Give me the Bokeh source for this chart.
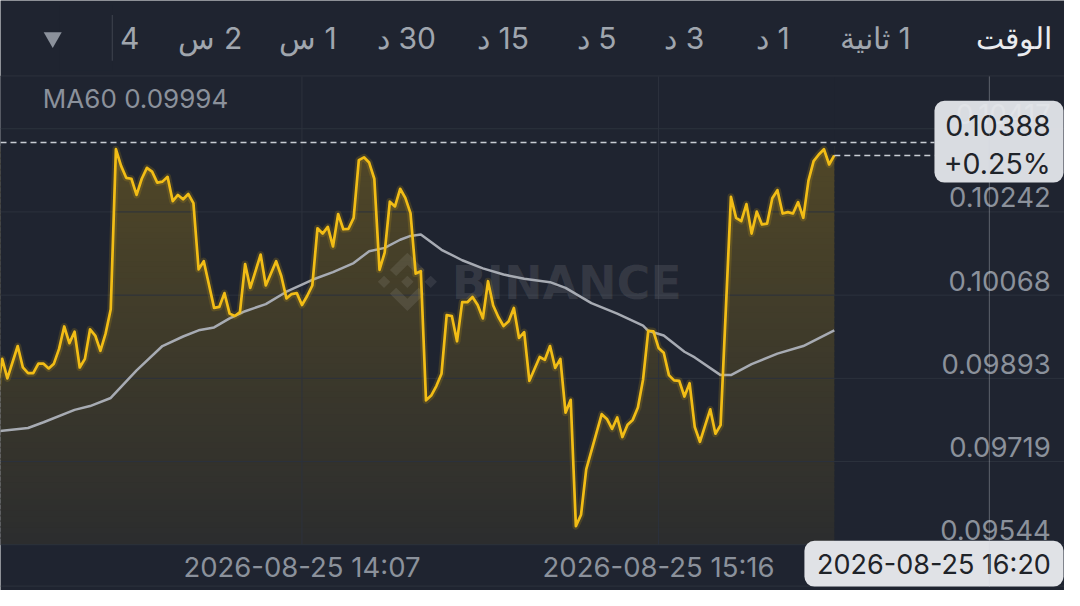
import numpy as np
from bokeh.plotting import figure
from bokeh.models import Range1d
from bokeh.core.properties import value
from bokeh.embed import file_html
from bokeh.resources import INLINE

# ---------------- data ----------------
# minutes after 13:00 on 2026-08-25 (1-minute closes, turning points)
price_t = [8, 9, 10, 12, 13, 14, 15, 16, 17, 18,
           19, 20, 21, 22, 23, 24, 25, 26, 27, 28,
           29, 30, 31, 32, 33, 34, 35, 36, 37, 38,
           39, 40, 41, 42, 43, 44, 45, 46, 47, 48,
           50, 51, 52, 53, 54, 55, 56, 57, 59, 60,
           62, 63, 64, 65, 66, 67, 68, 69, 70, 71,
           72, 73, 74, 75, 76, 77, 78, 79, 80, 81,
           82, 83, 84, 85, 86, 87, 88, 89, 90, 91,
           92, 93, 94, 95, 96, 97, 98, 99, 100, 101,
           102, 103, 104, 105, 106, 107, 108, 109, 110, 111,
           113, 114, 115, 116, 117, 118, 119, 120, 121, 122,
           125, 126, 127, 128, 129, 130, 131, 132, 133, 134,
           135, 136, 137, 138, 139, 140, 141, 142, 143, 144,
           146, 147, 148, 150, 151, 152, 153, 154, 155, 156,
           157, 158, 159, 160, 161, 162, 163, 164, 165, 166,
           167, 168, 169, 170]
price_v = [0.09869, 0.09934, 0.09893, 0.09961, 0.09916, 0.09904, 0.09904, 0.09924, 0.09924, 0.09914,
           0.09924, 0.09955, 0.10002, 0.09967, 0.09991, 0.09916, 0.09934, 0.09996, 0.09983, 0.09951,
           0.09987, 0.10038, 0.10374, 0.10339, 0.10314, 0.10312, 0.10278, 0.10312, 0.10335, 0.10327,
           0.10304, 0.10306, 0.10316, 0.10265, 0.10278, 0.10269, 0.10280, 0.10261, 0.10122, 0.10139,
           0.10041, 0.10043, 0.10072, 0.10029, 0.10024, 0.10032, 0.10133, 0.10083, 0.10153, 0.10088,
           0.10139, 0.10108, 0.10061, 0.10070, 0.10072, 0.10047, 0.10066, 0.10088, 0.10208, 0.10197,
           0.10211, 0.10170, 0.10238, 0.10206, 0.10207, 0.10230, 0.10351, 0.10357, 0.10346, 0.10312,
           0.10121, 0.10157, 0.10264, 0.10254, 0.10291, 0.10272, 0.10240, 0.10113, 0.10118, 0.09847,
           0.09857, 0.09877, 0.09903, 0.10026, 0.10024, 0.09971, 0.10053, 0.10053, 0.10064, 0.10047,
           0.10019, 0.10097, 0.10046, 0.10022, 0.10003, 0.10013, 0.10041, 0.09978, 0.09990, 0.09888,
           0.09938, 0.09932, 0.09961, 0.09915, 0.09934, 0.09821, 0.09848, 0.09583, 0.09607, 0.09702,
           0.09818, 0.09808, 0.09787, 0.09811, 0.09770, 0.09796, 0.09806, 0.09832, 0.09891, 0.09993,
           0.09992, 0.09957, 0.09947, 0.09900, 0.09889, 0.09888, 0.09855, 0.09883, 0.09791, 0.09760,
           0.09828, 0.09777, 0.09795, 0.10274, 0.10230, 0.10223, 0.10259, 0.10197, 0.10243, 0.10216,
           0.10218, 0.10271, 0.10288, 0.10239, 0.10242, 0.10239, 0.10263, 0.10230, 0.10308, 0.10349,
           0.10363, 0.10374, 0.10342, 0.10361]

ma_t = [8, 14, 17, 23, 26, 30, 35, 40, 44, 47,
        50, 53, 56, 60, 64, 67, 69, 73, 77, 80,
        83, 86, 88, 90, 94, 98, 102, 106, 110, 115,
        118, 123, 128, 133, 134, 137, 141, 143, 148, 150,
        154, 159, 164, 170]
ma_v = [0.09782, 0.09789, 0.09801, 0.09827, 0.09835, 0.09852, 0.09910, 0.09961, 0.09981, 0.09994,
        0.10000, 0.10019, 0.10034, 0.10049, 0.10075, 0.10090, 0.10100, 0.10116, 0.10135, 0.10160,
        0.10167, 0.10184, 0.10192, 0.10195, 0.10163, 0.10141, 0.10124, 0.10111, 0.10102, 0.10095,
        0.10083, 0.10051, 0.10029, 0.10004, 0.09993, 0.09983, 0.09949, 0.09937, 0.09900, 0.09900,
        0.09923, 0.09945, 0.09961, 0.09994]

y_ticks = [0.09544, 0.097186, 0.098932, 0.100678, 0.102424, 0.104170]
y_tick_labels = ["0.09544", "0.09719", "0.09893", "0.10068", "0.10242", "0.10417"]
x_ticks = [67, 136]                      # 14:07, 15:16
x_tick_labels = ["2026-08-25 14:07", "2026-08-25 15:16"]
tab_labels = ["الوقت", "1 ثانية", "1 د", "3 د", "5 د", "15 د", "30 د", "1 س", "2 س", "4 س"]
ma_label = "MA60 0.09994"
high_price = 0.10388
high_labels = ["0.10388", "+0.25%"]
cursor_t = 200                           # 16:20
cursor_label = "2026-08-25 16:20"

# ---------------- layout helpers ----------------
W, H = 1064, 590
RW, RH = 1080, 606
PX_MIN = 5.246
X0 = 67 - 306 / PX_MIN
X1 = X0 + RW / PX_MIN
PXU = 48946.0
Y_TOP = 0.09544 + 559 / PXU
Y_BOT = 0.09544 - (RH - 559) / PXU


def dx(X):
    return X0 + X * (X1 - X0) / RW


def dy(Y):
    return Y_TOP - Y * (Y_TOP - Y_BOT) / RH


BG = "#1f2430"
YEL = "#f0b90b"
GRID = "#2c323d"
LABEL = "#8b919b"
FONT = value("Inter")

p = figure(width=W, height=H, x_range=Range1d(X0, X1), y_range=Range1d(Y_BOT, Y_TOP),
           output_backend="svg", toolbar_location=None, min_border=0,
           x_axis_location=None, y_axis_location=None,
           background_fill_color=BG, border_fill_color=BG, outline_line_color=None)
p.grid.visible = False

# ---- gradient fill under the price line ----
bg_rgb = np.array([0x1f, 0x24, 0x30], dtype=float)
yel_rgb = np.array([0xf0, 0xb9, 0x0b], dtype=float)
N = 70
bottom = y_ticks[0]
top_f = max(price_v) + 0.00003
edges = np.linspace(bottom, top_f, N + 1)
mids = (edges[:-1] + edges[1:]) / 2
alphas = 0.06 + (0.235 - 0.06) * (mids - bottom) / (top_f - bottom)
cols = []
for a in alphas:
    c = bg_rgb * (1 - a) + yel_rgb * a
    cols.append("#%02x%02x%02x" % tuple(int(round(v)) for v in c))
ovl = (edges[1] - edges[0]) * 0.3
p.quad(left=price_t[0], right=price_t[-1], bottom=edges[:-1], top=edges[1:] + ovl,
       fill_color=cols, line_color=None)
# mask above the line
p.varea(x=price_t, y1=price_v, y2=dy(77.5), fill_color=BG)

# ---- grid ----
p.segment(x0=[X0] * len(y_ticks), x1=[X1] * len(y_ticks), y0=y_ticks, y1=y_ticks,
          line_color=GRID, line_width=1)
p.segment(x0=x_ticks, x1=x_ticks, y0=[dy(78)] * 2, y1=[y_ticks[0]] * 2,
          line_color=GRID, line_width=1)
p.segment(x0=[X0, X0], x1=[X1, X1], y0=[dy(77.5), dy(601.5)], y1=[dy(77.5), dy(601.5)],
          line_color=GRID, line_width=1)

# ---- watermark ----
cx, cy, s = 413, 289, 30
shapes = [
    [(0, 0.21), (0.21, 0), (0, -0.21), (-0.21, 0)],
    [(-0.79, 0.21), (-0.58, 0), (-0.79, -0.21), (-1.0, 0)],
    [(0.79, 0.21), (1.0, 0), (0.79, -0.21), (0.58, 0)],
    [(0, 1), (0.59, 0.41), (0.38, 0.2), (0, 0.58), (-0.38, 0.2), (-0.59, 0.41)],
    [(0, -1), (0.59, -0.41), (0.38, -0.2), (0, -0.58), (-0.38, -0.2), (-0.59, -0.41)],
]
p.patches(xs=[[dx(cx + u * s) for u, v in sh] for sh in shapes],
          ys=[[dy(cy - v * s) for u, v in sh] for sh in shapes],
          fill_color="white", fill_alpha=0.09, line_color=None)
p.text(x=[dx(458)], y=[dy(290)], text=["BINANCE"], text_font=value("DejaVu Sans"),
       text_font_style="bold", text_font_size="46px", text_color="white", text_alpha=0.095,
       text_align="left", text_baseline="middle")

# ---- series ----
p.line(ma_t, ma_v, line_color="#a7abb3", line_width=2.5)
p.line(price_t, price_v, line_color=YEL, line_width=7, line_alpha=0.15, line_join="round")
p.line(price_t, price_v, line_color="#f2bd16", line_width=2.7, line_join="round")

# dashed price lines
p.segment(x0=[X0, price_t[-1]], x1=[dx(948), dx(948)], y0=[high_price, price_v[-1]],
          y1=[high_price, price_v[-1]], line_color="#c9cdd4", line_width=1.5, line_dash="6 4")

# ---- labels ----
p.text(x=[dx(1066)] * len(y_ticks), y=[t + 15 / PXU for t in y_ticks], text=y_tick_labels,
       text_font=FONT, text_font_size="27.5px", text_color=LABEL,
       text_align="right", text_baseline="middle")
p.text(x=x_ticks, y=[dy(582)] * 2, text=x_tick_labels, text_font=FONT,
       text_font_size="27.5px", text_color=LABEL, text_align="center", text_baseline="middle")
p.text(x=[dx(43)], y=[dy(101)], text=[ma_label], text_font=FONT, text_font_size="26px",
       text_color=LABEL, text_align="left", text_baseline="middle")

# ---- tab bar ----
tab_x = [1067, 888, 784, 694, 605, 510, 412, 312, 213, 141]
tab_align = ["right"] + ["center"] * 8 + ["right"]
tab_col = ["#eaecef"] + ["#a0a6ae"] * 9
p.text(x=[dx(v) for v in tab_x], y=[dy(39)] * len(tab_labels),
       text=["\u200f" + t for t in tab_labels], text_font=FONT, text_font_size="30px",
       text_color=tab_col, text_align=tab_align, text_baseline="middle")
p.quad(left=[dx(60)], right=[dx(113.5)], bottom=[dy(72)], top=[dy(5)], fill_color=BG, line_color=None)
p.segment(x0=[dx(113.5)], x1=[dx(113.5)], y0=[dy(15)], y1=[dy(62)], line_color="#3a3f4a", line_width=1.2)
p.scatter(x=[dx(53)], y=[dy(38)], marker="inverted_triangle", size=18,
          fill_color=LABEL, line_color=None)

# ---- value / time boxes ----
p.quad(left=[dx(948)], right=[dx(1079)], top=[dy(103)], bottom=[dy(187)], border_radius=10,
       fill_color="#e6e8ec", fill_alpha=0.94, line_color=None)
p.text(x=[dx(1066)] * 2, y=[dy(128), dy(167)], text=high_labels, text_font=FONT,
       text_font_size="28.5px", text_color="#1e2329", text_align="right", text_baseline="middle")
p.quad(left=[dx(816)], right=[dx(1079)], top=[dy(555)], bottom=[dy(602)], border_radius=10,
       fill_color="#e6e8ec", fill_alpha=0.97, line_color=None)
p.text(x=[dx(947.5)], y=[dy(579)], text=[cursor_label], text_font=FONT,
       text_font_size="27px", text_color="#1e2329", text_align="center", text_baseline="middle")

# cursor line
p.segment(x0=[cursor_t], x1=[cursor_t], y0=[dy(78)], y1=[dy(602)],
          line_color="#d5d8dd", line_alpha=0.35, line_width=1)

open("out.html", "w", encoding="utf-8").write(file_html(p, INLINE, title="chart"))
